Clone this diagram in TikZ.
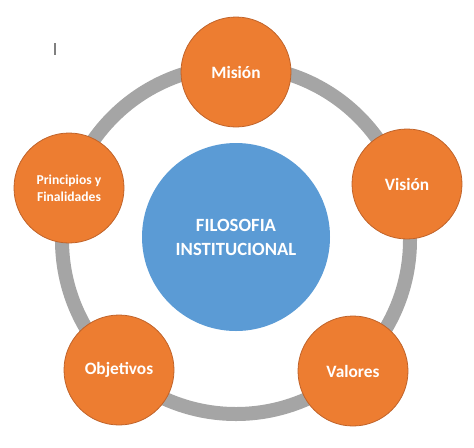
\documentclass[tikz,border=0pt]{standalone}
\usepackage{fontspec}
\setmainfont{Carlito}
\begin{document}
\begin{tikzpicture}[x=0.75pt,y=-0.75pt,
  orangecirc/.style={circle,fill=orangeF,draw=orangeD,line width=0.6pt,minimum size=82.5pt,inner sep=0pt,text=white,font=\bfseries\fontsize{13}{14}\selectfont,align=center},
  bluecirc/.style={circle,fill=blueF,minimum size=141pt,inner sep=0pt,text=white,font=\bfseries\fontsize{14}{18}\selectfont,align=center}]
\definecolor{orangeF}{HTML}{ED7D31}
\definecolor{orangeD}{HTML}{C0632A}
\definecolor{blueF}{HTML}{5B9BD5}
\definecolor{ringG}{HTML}{A5A5A5}
\useasboundingbox (0,0) rectangle (474,447);
\coordinate (ctr) at (236,240);
\draw[ringG,line width=10.5pt] (ctr) circle[radius=174];
\draw[gray,line width=1.2pt] (55,43) -- (55,55);
\node[bluecirc] (filo) at (236,237) {FILOSOFIA\\INSTITUCIONAL};
\node[orangecirc] (mision) at (236,72) {Misión};
\node[orangecirc] (vision) at (407,184) {Visión};
\node[orangecirc] (valores) at (353,371) {Valores};
\node[orangecirc] (objetivos) at (119,370) {Objetivos};
\node[orangecirc,font=\bfseries\fontsize{10.2}{13}\selectfont] (principios) at (69,188) {Principios y\\Finalidades};
\end{tikzpicture}
\end{document}
